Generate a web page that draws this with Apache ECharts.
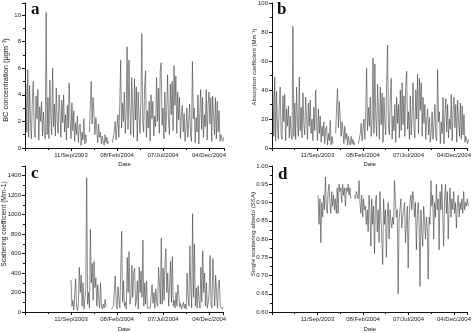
<!DOCTYPE html>
<html><head><meta charset="utf-8">
<script src="https://cdn.jsdelivr.net/npm/echarts@6/dist/echarts.min.js"></script>
<style>html,body{margin:0;padding:0;background:#fff}#c{width:474px;height:333px}</style>
</head><body><div id="c"></div>
<script>
// Day 0 = 14/Apr/2003; major x ticks every 150 days
const xTickLabels = ['11/Sep/2003', '08/Feb/2004', '07/Jul/2004', '04/Dec/2004'];
const tickStepDays = 150;
const sampleStepDays = 3;

// a: BC concentration (µg m-3), from day 3
const bcStart = 3;
const bcValues = [
 4.8,1.2,5.9,0.8,4.7,2.1,0.7,3.6,5.0,1.4,0.8,
 3.9,2.2,4.4,0.6,3.1,2.0,3.5,0.9,2.7,1.2,0.7,
 10.2,1.0,3.8,0.7,5.1,2.4,1.0,6.0,1.6,3.3,0.9,
 4.5,2.0,1.1,4.0,2.7,0.8,3.6,1.9,4.0,1.2,2.5,
 0.6,3.2,1.5,4.9,2.2,0.7,3.4,1.3,2.8,0.5,1.9,
 1.0,2.4,0.4,1.6,1.8,0.2,1.2,0.6,2.2,0.3,1.0,
 0.4,null,null,1.2,3.1,5.0,1.8,3.8,2.5,1.0,2.3,
 1.5,0.4,1.8,0.8,1.2,0.3,0.9,0.5,0.2,1.0,0.4,
 0.8,0.3,0.5,null,null,null,0.4,0.3,1.2,2.0,0.6,
 1.6,2.5,0.8,3.2,6.6,1.5,3.4,2.0,4.2,1.1,2.6,
 7.6,1.4,6.6,2.8,1.0,5.3,3.0,0.8,5.2,2.1,4.6,
 0.5,4.2,2.3,1.1,3.6,8.6,2.0,1.2,4.5,5.8,0.8,
 2.8,1.5,3.5,0.5,4.0,2.2,3.5,0.9,2.4,1.6,5.3,
 2.0,4.5,1.1,5.8,6.4,1.7,3.0,0.7,4.2,1.2,2.8,
 5.5,2.0,1.0,4.8,2.5,5.0,1.3,6.2,3.2,5.4,1.1,
 4.2,2.1,3.8,0.7,2.5,3.2,1.2,2.6,0.5,1.5,3.0,
 0.8,2.0,3.3,1.0,0.5,6.5,2.2,3.0,0.4,2.3,1.2,
 4.0,0.3,2.6,4.4,1.4,3.8,0.8,2.5,1.6,4.4,0.6,
 3.2,4.2,1.8,3.8,0.5,3.9,2.4,1.0,3.8,0.7,3.5,
 1.2,2.8,0.5,1.0,0.7,0.5,0.8
];

// b: Absorption coefficient (Mm-1), from day 3
const absStart = 3;
const absValues = [
 40,8,49,5,39,15,6,30,42,10,6,
 36,18,37,5,27,15,29,7,22,10,6,
 84,8,31,6,42,19,8,49,12,28,7,
 38,16,9,35,22,6,31,15,33,10,20,
 5,28,12,40,18,5,27,10,22,4,15,
 8,18,3,13,15,2,10,5,19,2,8,
 3,null,null,10,28,41,14,32,20,8,18,
 12,3,15,6,10,2,8,4,2,8,3,
 6,2,4,null,null,null,3,2,10,17,5,
 13,20,6,25,55,12,28,15,35,8,20,
 62,10,58,22,8,44,24,6,42,16,38,
 4,35,18,9,44,71,15,9,36,48,6,
 22,12,30,4,35,17,30,7,40,12,45,
 16,36,8,44,53,13,25,6,36,9,22,
 45,15,7,40,20,51,10,48,26,45,8,
 35,17,30,6,20,27,9,21,4,12,25,
 6,16,30,8,5,54,18,25,3,18,10,
 35,3,22,34,11,30,7,20,13,37,5,
 26,35,14,30,4,33,19,8,31,6,29,
 9,23,4,8,5,3,6
];

// c: Scattering coefficient (Mm-1), from day 150
const scatStart = 150;
const scatValues = [
 330,60,120,20,40,340,50,15,90,460,200,
 380,60,300,30,120,250,1380,80,200,40,850,
 300,500,120,520,250,350,60,280,140,40,300,
 60,30,80,40,130,50,null,null,null,null,null,
 30,20,60,40,370,80,30,260,120,40,60,
 830,100,320,60,100,30,560,200,620,80,150,
 480,150,400,450,60,120,320,30,460,200,420,
 150,740,60,300,80,320,40,30,50,40,30,
 280,90,200,40,240,100,60,460,300,80,760,
 80,450,120,500,650,200,400,60,250,520,100,
 570,60,120,40,200,60,280,180,50,90,30,
 60,100,40,80,30,400,150,60,680,250,40,
 1010,150,700,60,250,40,270,120,40,460,100,
 630,200,400,60,300,40,100,200,580,80,40,
 550,300,60,380,200,40,300,330,60,50,30,
 50,40
];

// d: Single scattering albedo, from day 152
const ssaStart = 152;
const ssaValues = [
 0.92,0.84,0.91,0.79,0.90,0.86,0.92,0.88,0.97,0.89,0.87,
 0.93,0.95,0.90,0.87,0.93,0.89,0.92,0.88,0.91,0.87,0.94,
 0.87,0.95,0.93,0.94,0.90,0.95,0.92,0.94,0.89,0.94,0.93,
 0.95,0.92,0.94,0.91,null,null,null,0.92,0.91,0.93,0.92,
 0.91,0.96,0.90,0.87,0.92,0.86,0.91,0.88,0.89,0.84,0.88,
 0.82,0.92,0.87,0.78,0.91,0.84,0.89,0.76,0.90,0.92,0.82,
 0.88,0.79,0.93,0.86,0.80,0.73,0.91,0.84,0.88,0.75,0.86,
 0.90,0.80,0.88,0.85,0.83,0.86,0.84,0.96,0.90,0.86,0.88,
 0.65,0.85,0.88,0.91,0.83,0.86,0.88,0.90,0.79,0.84,0.89,
 0.72,0.86,0.90,0.92,0.88,0.93,0.91,0.86,0.90,0.77,0.86,
 0.90,0.84,0.67,0.88,0.82,0.78,0.89,0.85,0.80,0.86,0.83,
 0.69,0.86,0.84,0.96,0.89,0.92,0.80,0.90,0.86,0.95,0.88,
 0.91,0.77,0.93,0.88,0.95,0.86,0.78,0.91,0.95,0.87,0.93,
 0.80,0.89,0.94,0.86,0.91,0.88,0.93,0.87,0.90,0.83,0.89,
 0.92,0.86,0.90,0.88,0.91,0.87,0.93,0.88,0.90,0.89,0.91,
 0.89
];

const yTitles = ['BC concentration (\u03bcgm\u207b\u00b3)', 'Absorption coefficient (Mm\u207b\u00b9)',
                 'Scattering coefficient (Mm-1)', 'Single scattering albedo (SSA)'];
const panelLetters = ['a', 'b', 'c', 'd'];

function pairs(vals, start) {
  return vals.map((v, i) => [start + i * sampleStepDays, v === null ? '-' : v]);
}
const FONT = 'Liberation Sans, Arial, sans-serif';
const LBL = 6;
const grids = [
  {left: 25, top: 3, width: 199, height: 145},
  {left: 272, top: 2, width: 198, height: 146},
  {left: 25, top: 166, width: 198, height: 146},
  {left: 272, top: 166, width: 198, height: 147}
];
const xMax = [649, 645, 645, 645];
const axLine = {lineStyle: {color: '#111', width: 1}};
const tick = {length: 3, lineStyle: {color: '#111', width: 1}};
const minor = {show: true, splitNumber: 2, length: 2, lineStyle: {color: '#111', width: 1}};

const xAxes = grids.map((g, i) => ({
  type: 'value', gridIndex: i, min: 0, max: xMax[i], interval: tickStepDays,
  axisLine: axLine, axisTick: tick, minorTick: minor, splitLine: {show: false},
  axisLabel: {fontSize: LBL, fontFamily: FONT, color: '#222', margin: 4,
    formatter: v => { const k = Math.round(v / tickStepDays);
      if (Math.abs(v - k * tickStepDays) > 0.01 || k < 1 || k > xTickLabels.length) return '';
      return xTickLabels[k - 1]; }},
  name: 'Date', nameLocation: 'middle', nameGap: i < 2 ? 13 : 14,
  nameTextStyle: {fontSize: LBL, fontFamily: FONT, color: '#222'}
}));
const yCfg = [
  {min: 0, max: 10.9, interval: 2, fmt: v => (Math.abs(v % 2) < 1e-6 ? String(v) : '')},
  {min: 0, max: 100, interval: 20, fmt: v => String(v)},
  {min: 0, max: 1500, interval: 200, fmt: v => (v % 200 === 0 ? String(v) : '')},
  {min: 0.6, max: 1.0, interval: 0.05, fmt: v => v.toFixed(2)}
];
const yAxes = yCfg.map((c, i) => ({
  type: 'value', gridIndex: i, min: c.min, max: c.max, interval: c.interval,
  axisLine: {show: true, lineStyle: {color: '#111', width: 1}}, axisTick: {show: true, ...tick},
  minorTick: minor, splitLine: {show: false},
  axisLabel: {fontSize: LBL, fontFamily: FONT, color: '#222', margin: 4, formatter: c.fmt}
}));
const seriesData = [pairs(bcValues, bcStart), pairs(absValues, absStart),
                    pairs(scatValues, scatStart), pairs(ssaValues, ssaStart)];
const series = seriesData.map((d, i) => ({
  type: 'line', xAxisIndex: i, yAxisIndex: i, data: d, showSymbol: false, symbol: 'none',
  connectNulls: false, clip: true,
  lineStyle: {color: '#404040', width: 0.6}
}));
const titlePos = [[6, 80], [254.5, 67], [4.5, 224], [253, 234]];
const titleSize = [7.4, 6.0, 6.7, 6.2];
const letterPos = [[31, 1], [277, 1], [31, 165], [278, 166]];
const graphic = [];
yTitles.forEach((t, i) => graphic.push({type: 'text', x: titlePos[i][0], y: titlePos[i][1], rotation: Math.PI / 2,
  style: {text: t, textAlign: 'center', textVerticalAlign: 'middle', font: titleSize[i] + 'px ' + FONT, fill: '#222'}}));
panelLetters.forEach((t, i) => graphic.push({type: 'text', left: letterPos[i][0], top: letterPos[i][1],
  style: {text: t, font: 'bold 17px "Liberation Serif", serif', fill: '#111'}}));

const chart = echarts.init(document.getElementById('c'), null, {renderer: 'canvas'});
chart.setOption({animation: false, grid: grids, xAxis: xAxes, yAxis: yAxes, series, graphic});
</script></body></html>
